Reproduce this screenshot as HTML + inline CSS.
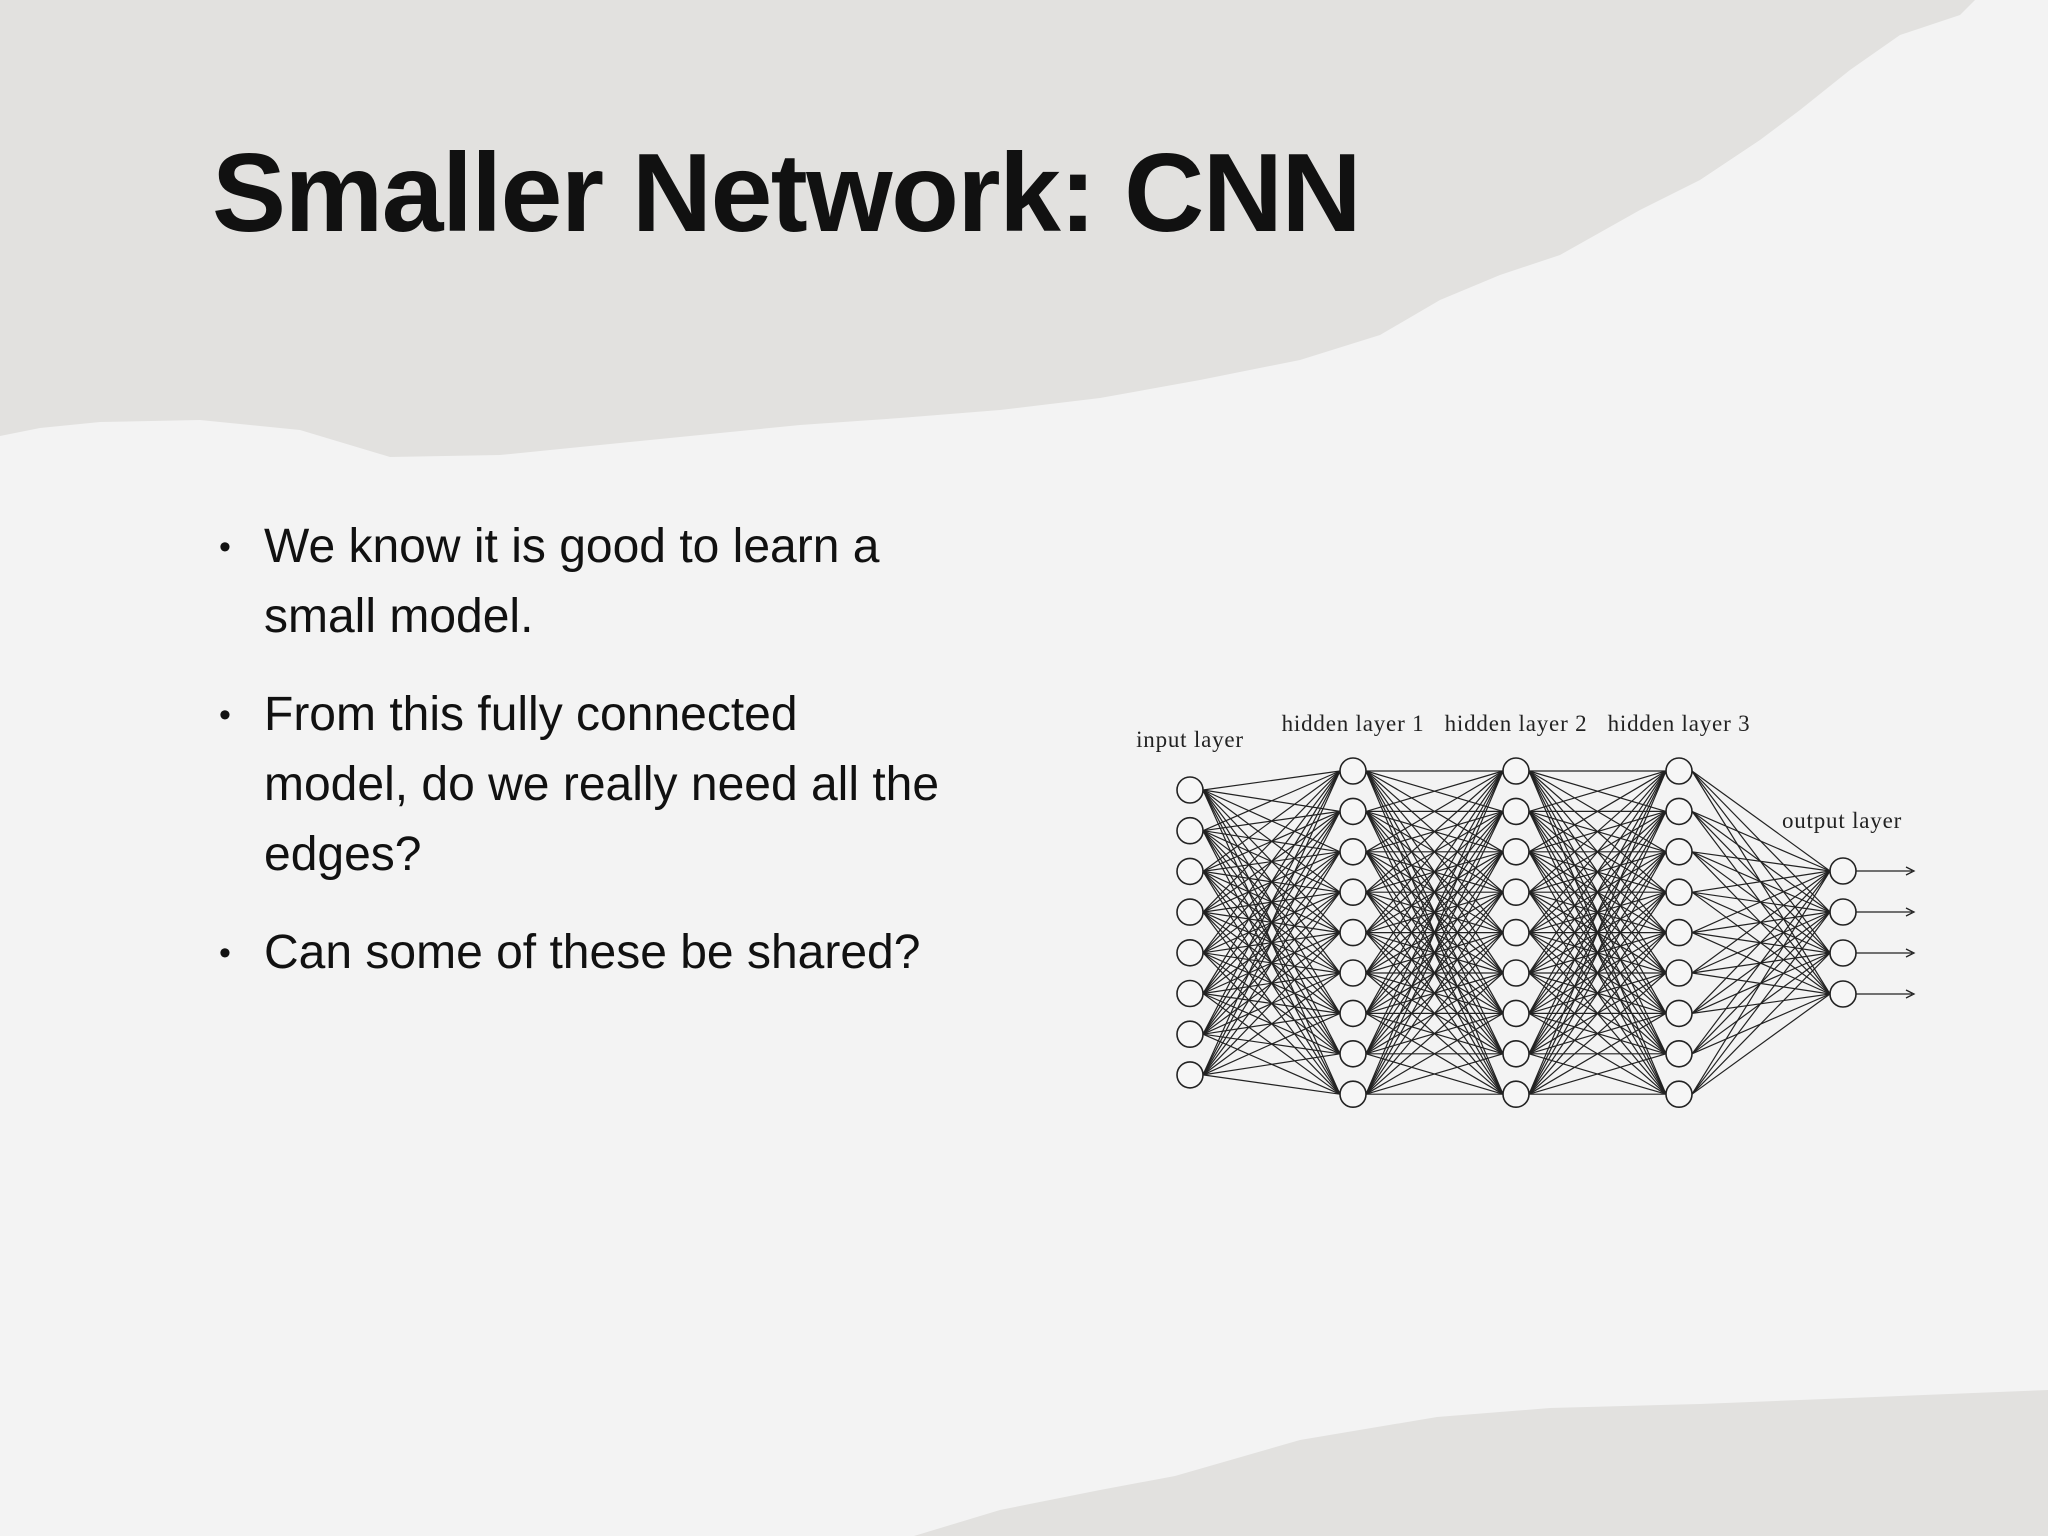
<!DOCTYPE html>
<html><head><meta charset="utf-8"><style>
html,body{margin:0;padding:0}
body{width:2048px;height:1536px;overflow:hidden;background:#f3f3f3;position:relative;font-family:"Liberation Sans",sans-serif}
svg{position:absolute;left:0;top:0}
h1{position:absolute;left:212px;top:138px;margin:0;font-size:111px;font-weight:bold;color:#111;letter-spacing:-1.5px;line-height:1}
ul{position:absolute;left:219px;top:512px;margin:0;padding:0;list-style:none;font-size:48px;color:#111;width:1000px;white-space:nowrap}
li{position:relative;padding-left:45px;line-height:70px;margin-bottom:28px}
li:before{content:"•";position:absolute;left:0;top:0;font-size:34px}
.t{font-family:"Liberation Serif",serif;font-size:23px;letter-spacing:0.8px;fill:#222}
</style></head><body>
<svg width="2048" height="1536" viewBox="0 0 2048 1536">
<path d="M0,0 L1975,0 L1960,15 L1900,35 L1850,70 L1800,110 L1760,140 L1700,180 L1640,210 L1560,255 L1500,275 L1440,300 L1380,335 L1300,360 L1200,380 L1100,398 L1000,410 L900,418 L800,425 L700,435 L600,445 L500,455 L390,457 L300,430 L200,420 L100,422 L40,428 L0,436 Z" fill="#e2e1df"/>
<path d="M914,1536 L1000,1510 L1100,1490 L1175,1476 L1300,1440 L1437,1417 L1550,1408 L1700,1404 L1850,1398 L2048,1390 L2048,1536 Z" fill="#e2e1df"/>
<g id="net"></g>
<text class="t" x="1190" y="747" text-anchor="middle">input layer</text>
<text class="t" x="1353" y="731" text-anchor="middle">hidden layer 1</text>
<text class="t" x="1516" y="731" text-anchor="middle">hidden layer 2</text>
<text class="t" x="1679" y="731" text-anchor="middle">hidden layer 3</text>
<text class="t" x="1842" y="828" text-anchor="middle">output layer</text>
</svg>
<h1>Smaller Network: CNN</h1>
<ul>
<li>We know it is good to learn a<br>small model.</li>
<li>From this fully connected<br>model, do we really need all the<br>edges?</li>
<li>Can some of these be shared?</li>
</ul>
<script>
var layers=[{x:1190,y:[]},{x:1353,y:[]},{x:1516,y:[]},{x:1679,y:[]},{x:1843,y:[]}];
for(var i=0;i<8;i++)layers[0].y.push(790+i*40.7);
for(var k=1;k<4;k++)for(var i=0;i<9;i++)layers[k].y.push(771+i*40.4);
for(var i=0;i<4;i++)layers[4].y.push(871+i*41);
var r=13,s='';
for(var k=0;k<4;k++){var A=layers[k],B=layers[k+1];
 for(var a=0;a<A.y.length;a++)for(var b=0;b<B.y.length;b++)
  s+='<line x1="'+(A.x+r)+'" y1="'+A.y[a]+'" x2="'+(B.x-r)+'" y2="'+B.y[b]+'" stroke="#222" stroke-width="1.2"/>';}
for(var i=0;i<4;i++){var y=layers[4].y[i];
 s+='<line x1="'+(1843+r)+'" y1="'+y+'" x2="1912" y2="'+y+'" stroke="#222" stroke-width="1.3"/><path d="M1906,'+(y-4)+' L1914,'+y+' L1906,'+(y+4)+'" fill="none" stroke="#222" stroke-width="1.3"/>';}
for(var k=0;k<5;k++)for(var i=0;i<layers[k].y.length;i++)
 s+='<circle cx="'+layers[k].x+'" cy="'+layers[k].y[i]+'" r="'+r+'" fill="#f6f6f6" stroke="#222" stroke-width="1.6"/>';
document.getElementById('net').innerHTML=s;
</script>
</body></html>
